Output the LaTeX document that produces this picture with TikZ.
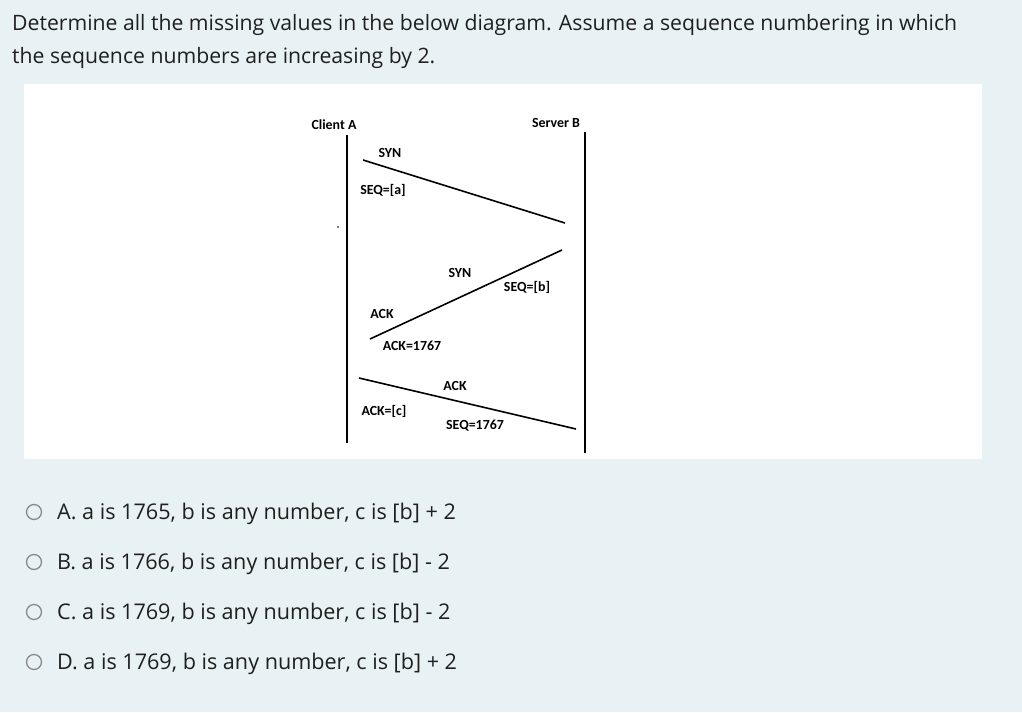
\documentclass[tikz,border=0pt]{standalone}
\usepackage{fontspec}
\setmainfont{Open Sans}
\newfontfamily\lblfont{Carlito}
\definecolor{bgc}{HTML}{E8F2F5}
\definecolor{txt}{HTML}{1F1F1F}
\definecolor{radio}{HTML}{8A8A8A}
\begin{document}
\begin{tikzpicture}[x=1pt,y=-1pt,
  title/.style={anchor=base west,inner sep=0pt,font=\fontsize{21.2}{24}\selectfont,text=txt},
  option/.style={anchor=base west,inner sep=0pt,font=\fontsize{21.6}{24}\selectfont,text=txt},
  lbl/.style={inner sep=0pt,font=\lblfont\bfseries\fontsize{13.9}{15}\selectfont},
  life/.style={line width=2.2pt},
  msg/.style={line width=1.6pt},
  radiobtn/.style={circle,draw=radio,line width=1.3pt,minimum size=15pt,inner sep=0pt}]
\fill[bgc] (0,0) rectangle (1022,712);
\useasboundingbox (0,0) rectangle (1022,712);
\fill[white] (24,84) rectangle (982,459);
\node[title] (t1) at (12,30) {Determine all the missing values in the below diagram. Assume a sequence numbering in which};
\node[title] (t2) at (12,63) {the sequence numbers are increasing by 2.};
% lifelines
\node[lbl] (ca) at (334,125) {Client A};
\node[lbl] (sb) at (556,123) {Server B};
\coordinate (ctop) at (347,135);
\coordinate (cbot) at (347,443);
\coordinate (stop) at (585,132);
\coordinate (sbot) at (585,453);
\draw[life] (ctop) -- (cbot);
\draw[life] (stop) -- (sbot);
\fill (338,227) circle (0.8pt);
% message 1
\coordinate (m1a) at (363,160);
\coordinate (m1b) at (565,223);
\draw[msg] (m1a) -- (m1b);
\node[lbl] (syn1) at (390,153) {SYN};
\node[lbl] (seqa) at (383,190) {SEQ=[a]};
% message 2
\coordinate (m2a) at (562,250);
\coordinate (m2b) at (370,339);
\draw[msg] (m2a) -- (m2b);
\node[lbl] (syn2) at (460,273) {SYN};
\node[lbl] (seqb) at (527,287) {SEQ=[b]};
\node[lbl] (ack1) at (382,314) {ACK};
\node[lbl] (ack1767) at (412,346) {ACK=1767};
% message 3
\coordinate (m3a) at (359,378);
\coordinate (m3b) at (576,429);
\draw[msg] (m3a) -- (m3b);
\node[lbl] (ack2) at (455,386) {ACK};
\node[lbl] (ackc) at (384,411) {ACK=[c]};
\node[lbl] (seq1767) at (475,426) {SEQ=1767};
% options
\node[radiobtn] (ra) at (34,512) {};
\node[radiobtn] (rb) at (34,562) {};
\node[radiobtn] (rc) at (34,612) {};
\node[radiobtn] (rd) at (34,662) {};
\node[option] (oa) at (57,519) {A. a is 1765, b is any number, c is [b] + 2};
\node[option] (ob) at (57,569) {B. a is 1766, b is any number, c is [b] - 2};
\node[option] (oc) at (57,619) {C. a is 1769, b is any number, c is [b] - 2};
\node[option] (od) at (57,669) {D. a is 1769, b is any number, c is [b] + 2};
\end{tikzpicture}
\end{document}
